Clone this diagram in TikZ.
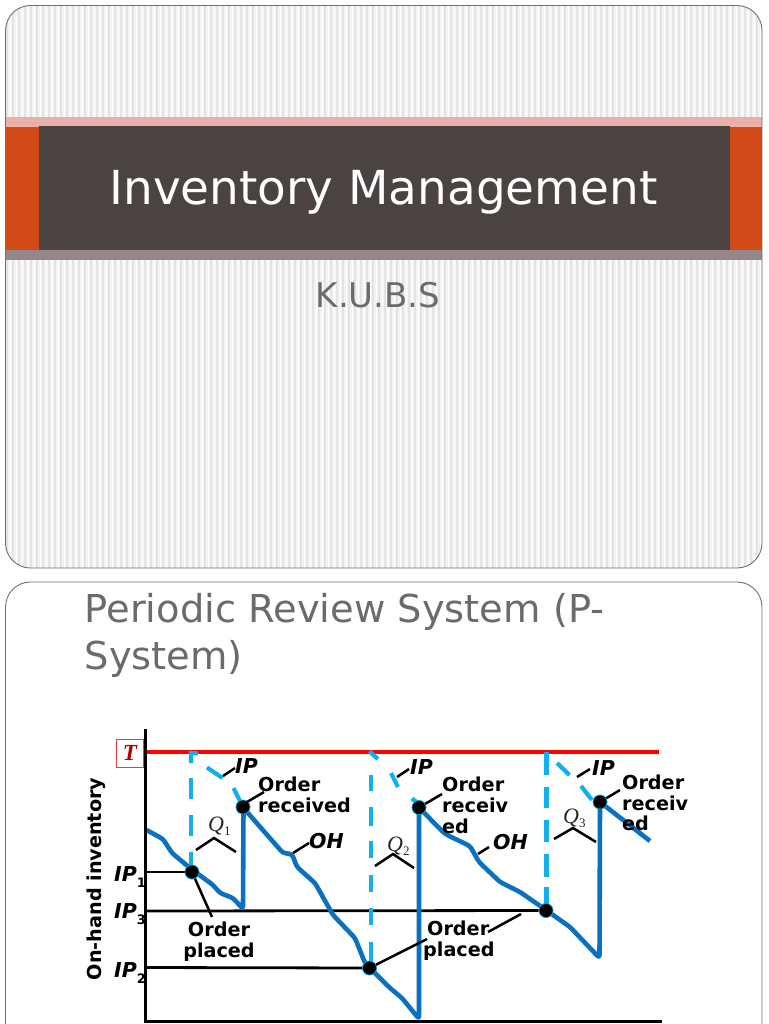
\documentclass[tikz,border=0pt]{standalone}
\usepackage{fontspec}
\setmainfont{DejaVu Sans}
\newfontfamily\qfont{Liberation Serif}
\definecolor{dark}{HTML}{4B4242}
\definecolor{orangeband}{HTML}{D24A17}
\definecolor{pinkband}{HTML}{E8B0A8}
\definecolor{greyband}{HTML}{958787}
\definecolor{titlegrey}{HTML}{6E6A6A}
\definecolor{stripe}{HTML}{E3E3E3}
\definecolor{stripesoft}{HTML}{F3F3F3}
\definecolor{cyanip}{HTML}{10B0EC}
\definecolor{blueoh}{HTML}{0A70C0}
\definecolor{frameline}{HTML}{707070}
\newcommand{\fs}[1]{\fontsize{#1}{#1}\selectfont}
\newcommand{\sbs}[1]{\raisebox{-6pt}{\fs{13}\upshape #1}}
\newcommand{\qsub}[1]{\raisebox{-4pt}{\fs{13}\upshape #1}}
\tikzset{
  x=1pt,y=-1pt,
  axisline/.style={draw=black,line width=3pt},
  guide/.style={draw=black,line width=2.8pt},
  leader/.style={draw=black,line width=2.5pt},
  ipline/.style={draw=cyanip,line width=4.2pt},
  ohline/.style={draw=blueoh,line width=4.6pt,line join=round,rounded corners=3pt},
  dotmark/.style={circle,fill=black,draw=cyanip,line width=.6pt,inner sep=0pt,minimum size=14pt},
  boldlabel/.style={inner sep=0pt,anchor=base west,font=\fs{19.2}\bfseries,align=left,text=black},
  oblabel/.style={inner sep=0pt,anchor=base west,font=\fs{20.5}\bfseries\itshape,text=black},
  qlabel/.style={inner sep=0pt,anchor=base west,font=\qfont\fs{22}\itshape,text=black!85},
}
\begin{document}
\begin{tikzpicture}
\useasboundingbox (0,0) rectangle (768,1024);
\fill[white] (0,0) rectangle (768,1024);
% slide 1
\begin{scope}
\clip[rounded corners=25pt] (5.5,5.5) rectangle (762,568);
\foreach \k in {0,...,126}{
  \fill[stripesoft] ({5+6*\k},5) rectangle ({9.5+6*\k},568);
  \fill[stripe] ({6.2+6*\k},5) rectangle ({8.2+6*\k},568);
}
\fill[pinkband] (5,117) rectangle (763,127);
\fill[dark] (38.5,126) rectangle (730,249.5);
\fill[orangeband] (5,127) rectangle (38.5,249.5);
\fill[orangeband] (730,127) rectangle (763,249.5);
\fill[greyband] (5,249.5) rectangle (763,260);
\end{scope}
\draw[frameline,line width=.9pt,rounded corners=25pt] (5.5,5.5) rectangle (762,568);
\node[inner sep=0pt,anchor=base,text=white,font=\fs{46.9}] (title) at (383.5,205) {Inventory Management};
\node[inner sep=0pt,anchor=base,text=titlegrey,font=\fs{34}] (subtitle) at (378,307) {K.U.B.S};
% slide 2
\draw[frameline,line width=.9pt,rounded corners=25pt] (5.5,1040) -- (5.5,582) -- (762,582) -- (762,1040);
\node[inner sep=0pt,anchor=base west,text=titlegrey,font=\fs{38.4}] (head1) at (84.5,622) {Periodic Review System (P-};
\node[inner sep=0pt,anchor=base west,text=titlegrey,font=\fs{38.4}] (head2) at (84.5,669) {System)};
% key points
\coordinate (origin) at (145,1021);
\coordinate (ytop) at (145,729);
\coordinate (xend) at (662,1021);
\coordinate (tleft) at (145,751.5);
\coordinate (tright) at (659,751.5);
\coordinate (ip1l) at (145,872);
\coordinate (ip3l) at (145,911);
\coordinate (ip2l) at (145,967.5);
\node[dotmark] (d1) at (192,872) {};
\node[dotmark] (r1) at (243,807) {};
\node[dotmark] (d2) at (369.5,968) {};
\node[dotmark] (r2) at (419,807.5) {};
\node[dotmark] (d3) at (546,910.5) {};
\node[dotmark] (r3) at (600,802) {};
% T box and lines
\node[draw=red!80,line width=.7pt,fill=white,minimum width=27pt,minimum height=28pt,inner sep=0pt,text=red!70!black,font=\qfont\fs{23}\bfseries\itshape] (tbox) at (130,753) {T};
\draw[red,line width=4pt] (tleft) -- (tright);
\draw[guide] (ip1l) -- (d1);
\draw[guide] (ip3l) -- (d3);
\draw[guide] (ip2l) -- (d2);
% inventory position (dashed)
\begin{scope}[ipline]
\draw (191,763) -- (191,753) -- (198,753.5);
\draw (191,778) -- (191,799);
\draw (191,815) -- (191,836);
\draw (191,852) -- (191,870);
\draw (207,767.5) -- (222.5,778);
\draw (233.5,788) -- (243,807);
\draw (371,775) -- (371,791);
\draw (371,807) -- (371,826);
\draw (371,841) -- (371,858);
\draw (371,875) -- (371,892);
\draw (371,908) -- (371,925);
\draw (371,942) -- (371,964);
\draw (370,751) -- (371,753) -- (378,759);
\draw (391,773) -- (398,787);
\draw (412,798.5) -- (419,804);
\draw (546.5,752) -- (546.5,775);
\draw (546.5,787) -- (546.5,808);
\draw (546.5,820) -- (546.5,842);
\draw (546.5,854) -- (546.5,877);
\draw (546.5,887) -- (546.5,907);
\draw (557,763) -- (569.5,775);
\draw (581,786) -- (592,800);
\end{scope}
% on-hand curve
\draw[ohline] (146.5,830) -- (163,839) -- (172,853) -- (190,868) -- (213,885) -- (220,893) -- (233,898) -- (243,909) -- (243.5,807) -- (247,812) -- (283,853) -- (292,854) -- (297,867) -- (315,883) -- (333,915) -- (355,938) -- (365,963) -- (370,968) -- (390,988) -- (402,998) -- (419,1019) -- (419,807.5) -- (443,832) -- (447,835) -- (470,846) -- (479,862) -- (500,882) -- (520,892) -- (546,910) -- (570,927) -- (599.5,958) -- (600,802) -- (650,841);
% axes
\draw[axisline] (ytop) -- (origin) -- (xend);
% redraw dots above curves
\node[dotmark] at (d1) {};
\node[dotmark] at (r1) {};
\node[dotmark] at (d2) {};
\node[dotmark] at (r2) {};
\node[dotmark] at (d3) {};
\node[dotmark] at (r3) {};
% labels
\node[boldlabel,rotate=90,anchor=center] (yl) at (96,879) {On-hand inventory};
\node[oblabel] (ip1) at (114,881) {IP\sbs{1}};
\node[oblabel] (ip3) at (114,918) {IP\sbs{3}};
\node[oblabel] (ip2) at (114,977) {IP\sbs{2}};
\node[oblabel] (ipa) at (235,773) {IP};
\node[oblabel] (ipb) at (410,774) {IP};
\node[oblabel] (ipc) at (592,775) {IP};
\node[oblabel] (oha) at (309,848) {OH};
\node[oblabel] (ohb) at (493,849) {OH};
\node[qlabel] (qa) at (208,831) {Q\qsub{1}};
\node[qlabel] (qb) at (387,851) {Q\qsub{2}};
\node[qlabel] (qc) at (563,823) {Q\qsub{3}};
\node[boldlabel] (ra) at (258,791) {Order};
\node[boldlabel] (rb) at (258,812) {received};
\node[boldlabel] (sa) at (442,791) {Order};
\node[boldlabel] (sb) at (442,812) {receiv};
\node[boldlabel] (sc) at (442,833) {ed};
\node[boldlabel] (ta) at (622,789) {Order};
\node[boldlabel] (tb) at (622,810) {receiv};
\node[boldlabel] (tc) at (622,830) {ed};
\node[boldlabel,anchor=base] (pa) at (219,936) {Order};
\node[boldlabel,anchor=base] (pb) at (219,957) {placed};
\node[boldlabel] (pc) at (427,935) {Order};
\node[boldlabel] (pd) at (423,956) {placed};
% leaders
\coordinate (l1a) at (223,776);\coordinate (l1b) at (235,768);
\draw[leader] (l1a) -- (l1b);
\coordinate (l2a) at (247,802);\coordinate (l2b) at (264,792);
\draw[leader] (l2a) -- (l2b);
\coordinate (q1a) at (196,850);\coordinate (q1b) at (214,838);\coordinate (q1c) at (236,852);
\draw[leader] (q1a) -- (q1b) -- (q1c);
\coordinate (l3a) at (293,853);\coordinate (l3b) at (309,843);
\draw[leader] (l3a) -- (l3b);
\coordinate (l4b) at (212,917);
\draw[leader] (d1) -- (l4b);
\coordinate (l5b) at (427,939);
\draw[leader] (d2) -- (l5b);
\coordinate (l6a) at (488,932);\coordinate (l6b) at (521,914);
\draw[leader] (l6a) -- (l6b);
\coordinate (q2a) at (375,866);\coordinate (q2b) at (393,854);\coordinate (q2c) at (414,868);
\draw[leader] (q2a) -- (q2b) -- (q2c);
\coordinate (l7a) at (478,854);\coordinate (l7b) at (489,847);
\draw[leader] (l7a) -- (l7b);
\coordinate (l8a) at (397,777);\coordinate (l8b) at (409,769);
\draw[leader] (l8a) -- (l8b);
\coordinate (l9b) at (442,794);
\draw[leader] (r2) -- (l9b);
\coordinate (q3a) at (554,839);\coordinate (q3b) at (573,828);\coordinate (q3c) at (596,842);
\draw[leader] (q3a) -- (q3b) -- (q3c);
\coordinate (l10a) at (577,777);\coordinate (l10b) at (590,769);
\draw[leader] (l10a) -- (l10b);
\coordinate (l11b) at (620,790);
\draw[leader] (r3) -- (l11b);
\end{tikzpicture}
\end{document}
